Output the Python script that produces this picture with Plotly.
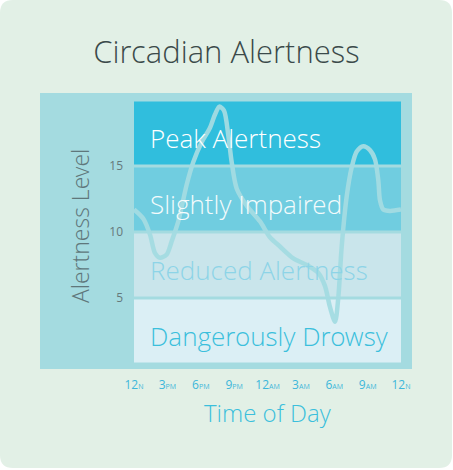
import plotly.graph_objects as go

# Circadian alertness over one day, hours counted from noon
hours = [0, 0.84, 1.44, 1.89, 2.34, 2.94, 3.39, 3.98, 4.74, 5.33, 6.08, 6.83,
         7.28, 7.67, 8.09, 8.48, 8.78, 9.23, 10.13, 11.33, 12.22, 13.12, 14.32,
         15.52, 16.57, 17.17, 17.62, 18.07, 18.37, 18.67, 19.12, 19.57, 20.02,
         20.61, 21.21, 21.66, 21.96, 22.11, 22.41, 23.01, 24]
alertness = [11.7, 11.0, 9.8, 8.4, 8.05, 8.3, 9.3, 10.8, 13.6, 15.3, 16.8, 17.9,
             18.9, 19.5, 19.2, 17.3, 15.3, 13.3, 12.0, 10.8, 9.6, 8.9, 8.0,
             7.5, 6.9, 5.9, 4.3, 3.2, 5.1, 8.9, 12.7, 14.9, 16.1,
             16.5, 16.2, 15.5, 13.9, 12.4, 11.7, 11.6, 11.7]

band_names = ["Peak Alertness", "Slightly Impaired", "Reduced Alertness", "Dangerously Drowsy"]
band_low = [15, 10, 5, 0]
band_high = [20, 15, 10, 5]
band_fill = ["#30bedd", "#70cde0", "#c9e5eb", "#dbeff5"]
band_text = ["#ffffff", "#f4fbfc", "#8dd4e7", "#3bbfdc"]

tick_hours = [0, 3, 6, 9, 12, 15, 18, 21, 24]
tick_num = ["12", "3", "6", "9", "12", "3", "6", "9", "12"]
tick_suffix = ["N", "PM", "PM", "PM", "AM", "AM", "AM", "AM", "N"]
y_ticks = [5, 10, 15]

LIGHT = "Open Sans Light, Open Sans"

W, H = 453, 470
L, R, T, B = 134, 52, 100, 106
PW, PH = W - L - R, H - T - B


def px_x(p):
    return (p - L) / PW


def px_y(p):
    return (H - B - p) / PH


def rounded_rect(x0, y0, x1, y1, r):
    # pixel box -> paper-coordinate svg path with rounded corners
    ax0, ax1 = px_x(x0), px_x(x1)
    ay0, ay1 = px_y(y0), px_y(y1)
    rx, ry = r / PW, r / PH
    return (f"M {ax0 + rx},{ay0} L {ax1 - rx},{ay0} Q {ax1},{ay0} {ax1},{ay0 - ry} "
            f"L {ax1},{ay1 + ry} Q {ax1},{ay1} {ax1 - rx},{ay1} "
            f"L {ax0 + rx},{ay1} Q {ax0},{ay1} {ax0},{ay1 + ry} "
            f"L {ax0},{ay0 - ry} Q {ax0},{ay0} {ax0 + rx},{ay0} Z")


fig = go.Figure()

fig.add_trace(
    go.Scatter(
        x=hours,
        y=alertness,
        mode="lines",
        line=dict(color="rgba(163,219,226,0.95)", width=4.5, shape="spline", smoothing=0.8),
        hoverinfo="skip",
        showlegend=False,
    )
)

shapes = [
    # card
    dict(type="path", xref="paper", yref="paper", path=rounded_rect(0, 0, 452, 468, 13),
         fillcolor="#e2f0e6", line=dict(width=0), layer="below"),
    # teal panel
    dict(type="rect", xref="paper", yref="paper",
         x0=px_x(40), x1=px_x(412), y0=px_y(369), y1=px_y(93),
         fillcolor="#a4dbe0", line=dict(width=0), layer="below"),
]
annotations = []
for name, lo, hi, fill, tc in zip(band_names, band_low, band_high, band_fill, band_text):
    shapes.append(dict(type="rect", xref="paper", yref="y", x0=0, x1=1,
                       y0=lo + 0.12, y1=hi - 0.12, fillcolor=fill,
                       line=dict(width=0), layer="below"))
    annotations.append(dict(text=name, xref="paper", yref="y", x=px_x(148),
                            y=(lo + hi) / 2 - 0.35, xanchor="left", yanchor="middle",
                            showarrow=False,
                            font=dict(family=LIGHT, size=26, color=tc, weight=300)))

annotations.append(dict(text="Alertness Level", xref="paper", yref="paper",
                        x=px_x(80), y=px_y(226), textangle=-90, showarrow=False,
                        xanchor="center", yanchor="middle",
                        font=dict(family=LIGHT, size=23, color="#5f777b", weight=300)))
annotations.append(dict(text="Time of Day", xref="paper", yref="paper",
                        x=0.5, y=px_y(412), showarrow=False,
                        xanchor="center", yanchor="middle",
                        font=dict(family=LIGHT, size=24, color="#3bbfdc", weight=300)))

tick_text = [f"{n}<span style='font-size:7px'>{s}</span>" for n, s in zip(tick_num, tick_suffix)]

fig.update_layout(
    width=W,
    height=H,
    margin=dict(l=L, r=R, t=T, b=B),
    paper_bgcolor="white",
    plot_bgcolor="rgba(0,0,0,0)",
    title=dict(text="Circadian Alertness", x=0.5, xref="container", xanchor="center",
               y=1 - 52 / H, yanchor="middle",
               font=dict(family=LIGHT, size=31, color="#3b4a4a", weight=300)),
    shapes=shapes,
    annotations=annotations,
    showlegend=False,
    hovermode=False,
    xaxis=dict(range=[0, 24], tickvals=tick_hours, ticktext=tick_text,
               showgrid=False, zeroline=False, showline=False, ticks="",
               ticklabelstandoff=12,
               tickfont=dict(family="Open Sans", size=12, color="#3db7da")),
    yaxis=dict(range=[0, 20], tickvals=y_ticks, showgrid=False, zeroline=False,
               showline=False, ticks="", ticklabelstandoff=10,
               tickfont=dict(family="Open Sans", size=12, color="#66797b")),
)

# the page's default body margin would push the card 8px off the corner
fig.write_html("out.html", config={"displayModeBar": False},
               post_script="document.body.style.margin='0';")
